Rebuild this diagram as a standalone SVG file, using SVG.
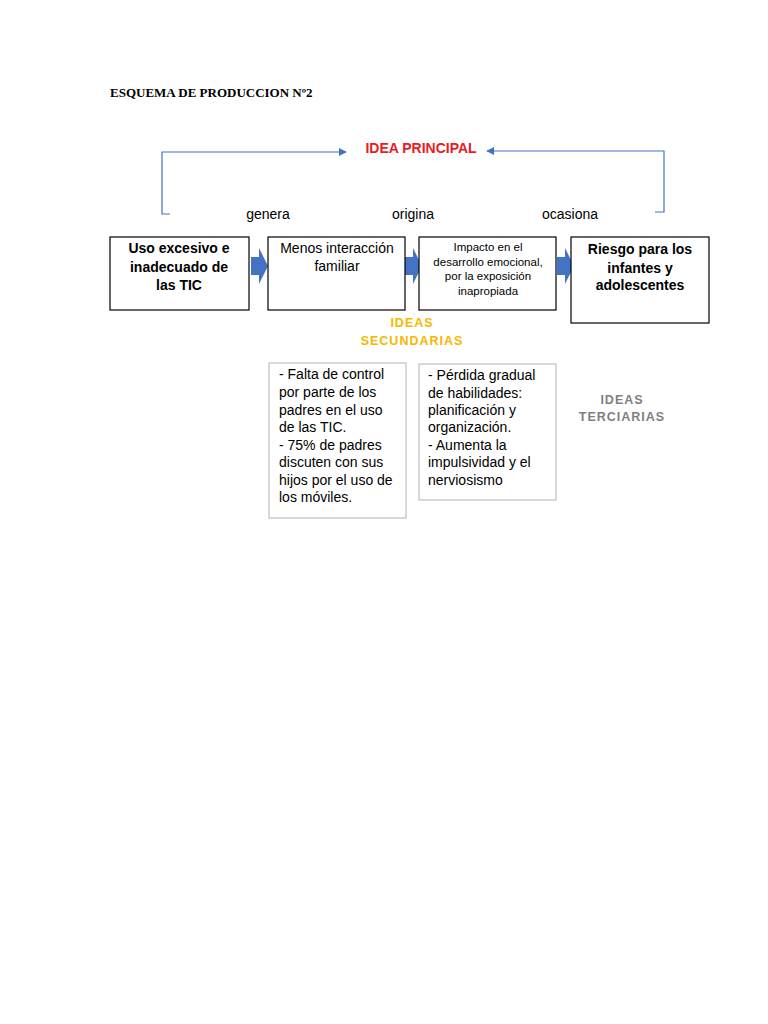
<svg xmlns="http://www.w3.org/2000/svg" width="768" height="1024" viewBox="0 0 768 1024">
<style>
text{font-family:"Liberation Sans",Arial,sans-serif;fill:#000}
.title{font-family:"Liberation Serif","Times New Roman",serif;font-weight:bold;font-size:13px}
.b{font-weight:bold;font-size:14px}
.n{font-size:14px}
.s{font-size:11.5px}
.lab{font-weight:bold;font-size:12.5px;letter-spacing:1px}
.box{fill:#fff;stroke:#000;stroke-width:1.2}
.gbox{fill:#fff;stroke:#bfbfbf;stroke-width:1.2}
.con{fill:none;stroke:#4472c4;stroke-width:1.2}
.blk{fill:#4472c4}
</style>
<defs>
<marker id="ah" viewBox="0 0 10 10" refX="9" refY="5" markerWidth="8" markerHeight="8" orient="auto" markerUnits="userSpaceOnUse">
<path d="M0,0 L10,5 L0,10 z" fill="#4472c4"/>
</marker>
</defs>
<rect width="768" height="1024" fill="#fff"/>
<text class="title" x="110" y="97">ESQUEMA DE PRODUCCION Nº2</text>

<g id="connectors">
<polyline class="con" points="170,214 162,214 162,152 346,152" marker-end="url(#ah)"/>
<polyline class="con" points="655,212 664,212 664,151 487,151" marker-end="url(#ah)"/>
<polygon class="blk" points="251,257 259,257 259,248 268,266 259,284 259,275 251,275"/>
<polygon class="blk" points="405,257 413,257 413,248 422,266 413,284 413,275 405,275"/>
<polygon class="blk" points="557,257 565,257 565,248 574,266 565,284 565,275 557,275"/>
<text class="n" x="268" y="219" text-anchor="middle">genera</text>
<text class="n" x="413" y="219" text-anchor="middle">origina</text>
<text class="n" x="570" y="219" text-anchor="middle">ocasiona</text>
</g>

<g id="idea-principal">
<text x="421" y="153" text-anchor="middle" style="font-weight:bold;font-size:14px;fill:#e81c1c">IDEA PRINCIPAL</text>
</g>

<g id="node1">
<rect class="box" x="110" y="237" width="139" height="73"/>
<text class="b" x="179" y="253" text-anchor="middle">Uso excesivo e</text>
<text class="b" x="179" y="272" text-anchor="middle">inadecuado de</text>
<text class="b" x="179" y="290" text-anchor="middle">las TIC</text>
</g>

<g id="node2">
<rect class="box" x="268" y="237" width="137" height="73"/>
<text class="n" x="337" y="253" text-anchor="middle">Menos interacción</text>
<text class="n" x="337" y="271" text-anchor="middle">familiar</text>
</g>

<g id="node3">
<rect class="box" x="419" y="237" width="137" height="73"/>
<text class="s" x="488" y="251" text-anchor="middle">Impacto en el</text>
<text class="s" x="488" y="266" text-anchor="middle">desarrollo emocional,</text>
<text class="s" x="488" y="280" text-anchor="middle">por la exposición</text>
<text class="s" x="488" y="295" text-anchor="middle">inapropiada</text>
</g>

<g id="node4">
<rect class="box" x="571" y="237" width="138" height="86"/>
<text class="b" x="640" y="254" text-anchor="middle">Riesgo para los</text>
<text class="b" x="640" y="273" text-anchor="middle">infantes y</text>
<text class="b" x="640" y="290" text-anchor="middle">adolescentes</text>
</g>

<g id="ideas-secundarias">
<text class="lab" x="412" y="327" text-anchor="middle" style="fill:#f5b800">IDEAS</text>
<text class="lab" x="412" y="345" text-anchor="middle" style="fill:#f5b800">SECUNDARIAS</text>
</g>

<g id="node5">
<rect class="gbox" x="269" y="363" width="137" height="155"/>
<text class="n" x="279" y="379">- Falta de control</text>
<text class="n" x="279" y="397">por parte de los</text>
<text class="n" x="279" y="415">padres en el uso</text>
<text class="n" x="279" y="432">de las TIC.</text>
<text class="n" x="279" y="450">- 75% de padres</text>
<text class="n" x="279" y="467">discuten con sus</text>
<text class="n" x="279" y="485">hijos por el uso de</text>
<text class="n" x="279" y="502">los móviles.</text>
</g>

<g id="node6">
<rect class="gbox" x="419" y="364" width="137" height="136"/>
<text class="n" x="428" y="380">- Pérdida gradual</text>
<text class="n" x="428" y="398">de habilidades:</text>
<text class="n" x="428" y="415">planificación y</text>
<text class="n" x="428" y="432">organización.</text>
<text class="n" x="428" y="450">- Aumenta la</text>
<text class="n" x="428" y="467">impulsividad y el</text>
<text class="n" x="428" y="485">nerviosismo</text>
</g>

<g id="ideas-terciarias">
<text class="lab" x="622" y="404" text-anchor="middle" style="fill:#7f7f7f">IDEAS</text>
<text class="lab" x="622" y="421" text-anchor="middle" style="fill:#7f7f7f">TERCIARIAS</text>
</g>
</svg>
